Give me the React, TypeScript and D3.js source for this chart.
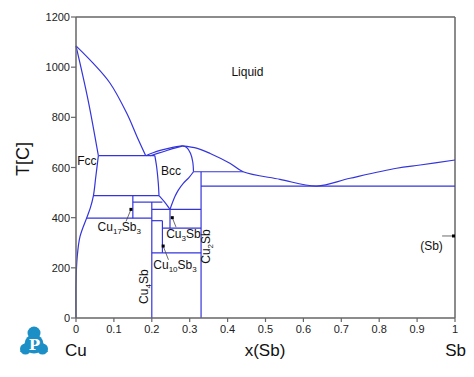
import React from "react";
import * as d3 from "d3";

// ---- data (x(Sb), T[C]) ----
const xTicks = [0, 0.1, 0.2, 0.3, 0.4, 0.5, 0.6, 0.7, 0.8, 0.9, 1];
const yTicks = [0, 200, 400, 600, 800, 1000, 1200];

const liquidusLeft: [number, number][] = [[0, 1085], [0.045, 1016], [0.09, 936], [0.134, 816], [0.161, 723], [0.184, 647]];
const fccSolidus: [number, number][] = [[0, 1085], [0.032, 868], [0.059, 647]];
const fccSolvus: [number, number][] = [[0.059, 647], [0.052, 560], [0.046, 488], [0.038, 440], [0.028, 398], [0.0105, 324], [0.003, 240], [0, 140], [0, 0]];
const bccLiquidus: [number, number][] = [[0.184, 647], [0.205, 660], [0.23, 671], [0.255, 680], [0.28, 686]];
const bccSolidus: [number, number][] = [[0.196, 647], [0.23, 663], [0.255, 675], [0.28, 685]];
const liquidusRight: [number, number][] = [[0.28, 686], [0.32, 676], [0.354, 656], [0.406, 617], [0.441, 583], [0.538, 553], [0.635, 526], [0.723, 557], [0.846, 597], [0.908, 610], [1, 630]];
const bccRight: [number, number][] = [[0.28, 686], [0.292, 680], [0.302, 657], [0.308, 623], [0.31, 583]];
const bccLowerRight: [number, number][] = [[0.31, 583], [0.298, 560], [0.283, 537], [0.27, 510], [0.261, 484], [0.248, 433]];
const bccLeft: [number, number][] = [[0.208, 647], [0.213, 600], [0.217, 540], [0.219, 488]];
const bccLowerLeft: [number, number][] = [[0.219, 488], [0.234, 462], [0.248, 433]];

// horizontal invariant lines: [x1, x2, T]
const hLines: [number, number, number][] = [
  [0.059, 0.208, 647],
  [0.31, 0.441, 583],
  [0.33, 1, 526],
  [0.046, 0.219, 488],
  [0.15, 0.228, 462],
  [0.028, 0.2, 398],
  [0.2, 0.33, 433],
  [0.2, 0.228, 388],
  [0.228, 0.33, 358],
  [0.2, 0.33, 260],
];
// vertical compound lines: [x, T1, T2]
const vLines: [number, number, number][] = [
  [0.15, 488, 398],
  [0.2, 462, 0],
  [0.228, 388, 260],
  [0.248, 433, 358],
  [0.33, 583, 0],
];

const phaseLabels: { t: string; x: number; T: number }[] = [
  { t: "Liquid", x: 0.41, T: 965 },
  { t: "Fcc", x: 0.003, T: 610 },
  { t: "Bcc", x: 0.224, T: 570 },
];
// compound labels with leader: dot (x,T), leader end (lx,lT), text anchor (tx, tT)
const leaders: { sub: [string, string, string, string]; dx: number; dT: number; lx: number; lT: number; tx: number; tT: number }[] = [
  { sub: ["Cu", "17", "Sb", "3"], dx: 0.145, dT: 433, lx: 0.132, lT: 385, tx: 0.057, tT: 345 },
  { sub: ["Cu", "3", "Sb", ""], dx: 0.254, dT: 400, lx: 0.264, lT: 362, tx: 0.238, tT: 319 },
  { sub: ["Cu", "10", "Sb", "3"], dx: 0.23, dT: 287, lx: 0.244, lT: 232, tx: 0.204, tT: 196 },
];

const W = 474, H = 377;
const x = d3.scaleLinear().domain([0, 1]).range([76, 455]);
const y = d3.scaleLinear().domain([0, 1200]).range([318, 17]);

const BLUE = "#3434dc";
const AXIS = "#666";
const FONT = "'Liberation Sans', Arial, Helvetica, sans-serif";

const lineGen = d3
  .line<[number, number]>()
  .x((d) => x(d[0]))
  .y((d) => y(d[1]))
  .curve(d3.curveCatmullRom.alpha(0.5));

const curves = [liquidusLeft, fccSolidus, fccSolvus, bccLiquidus, bccSolidus, liquidusRight, bccRight, bccLowerRight, bccLeft, bccLowerLeft];

function Logo() {
  const c = "#1b8fc6";
  return (
    <g>
      <circle cx={34} cy={333} r={6.5} fill={c} />
      <circle cx={25.5} cy={349} r={5.5} fill={c} />
      <circle cx={42.5} cy={349} r={5.5} fill={c} />
      <circle cx={34} cy={344} r={9.5} fill={c} />
      <path d="M34,327 L20,352 L48,352 Z" fill={c} />
      <text x={34.5} y={350} textAnchor="middle" fill="#fff" fontFamily="'DejaVu Serif', serif" fontWeight="bold" fontSize={15}>P</text>
    </g>
  );
}

export default function App() {
  return (
    <svg width={W} height={H} style={{ position: "absolute", left: 0, top: 0, background: "#fff" }} fontFamily={FONT}>
      {/* frame */}
      <line x1={x(0)} x2={x(1)} y1={y(1200)} y2={y(1200)} stroke={AXIS} strokeWidth={1.5} />
      <line x1={x(1)} x2={x(1)} y1={y(1200)} y2={y(0)} stroke={AXIS} strokeWidth={1.5} />

      {/* phase lines */}
      <g fill="none" stroke={BLUE} strokeWidth={1.2}>
        {curves.map((c, i) => (
          <path key={i} d={lineGen(c) || ""} />
        ))}
        {hLines.map(([a, b, t], i) => (
          <line key={"h" + i} x1={x(a)} x2={x(b)} y1={y(t)} y2={y(t)} />
        ))}
        {vLines.map(([xx, t1, t2], i) => (
          <line key={"v" + i} x1={x(xx)} x2={x(xx)} y1={y(t1)} y2={y(t2)} />
        ))}
      </g>

      {/* axes */}
      <line x1={x(0)} x2={x(0)} y1={y(1200)} y2={y(0)} stroke={AXIS} strokeWidth={1.5} />
      <line x1={x(0)} x2={x(1)} y1={y(0)} y2={y(0)} stroke={AXIS} strokeWidth={1.5} />
      {yTicks.map((t) => (
        <g key={"yt" + t}>
          <line x1={x(0) - 5} x2={x(0)} y1={y(t)} y2={y(t)} stroke={AXIS} strokeWidth={1.2} />
          <text x={x(0) - 6} y={y(t) + 4} textAnchor="end" fontSize={11} fill="#222">{t}</text>
        </g>
      ))}
      {xTicks.map((t) => (
        <g key={"xt" + t}>
          <line x1={x(t)} x2={x(t)} y1={y(0)} y2={y(0) + 4} stroke={AXIS} strokeWidth={1.2} />
          <text x={x(t)} y={y(0) + 15} textAnchor="middle" fontSize={11} fill="#222">{t}</text>
        </g>
      ))}

      {/* axis titles */}
      <text transform={`translate(29,159) rotate(-90)`} textAnchor="middle" fontSize={18} fill="#111">T[C]</text>
      <text x={265} y={356} textAnchor="middle" fontSize={17} fill="#111">x(Sb)</text>
      <text x={65} y={356} fontSize={17} fill="#111">Cu</text>
      <text x={466} y={356} textAnchor="end" fontSize={17} fill="#111">Sb</text>

      {/* phase labels */}
      {phaseLabels.map((l) => (
        <text key={l.t} x={x(l.x)} y={y(l.T)} fontSize={12} fill="#111">{l.t}</text>
      ))}

      {/* leader labels */}
      {leaders.map((l, i) => (
        <g key={"ld" + i}>
          <line x1={x(l.lx)} y1={y(l.lT)} x2={x(l.dx)} y2={y(l.dT)} stroke="#444" strokeWidth={0.8} />
          <rect x={x(l.dx) - 1.5} y={y(l.dT) - 1.5} width={3} height={3} fill="#000" />
          <text x={x(l.tx)} y={y(l.tT)} fontSize={12} fill="#111">
            {l.sub[0]}
            <tspan fontSize={8} dy={3}>{l.sub[1]}</tspan>
            <tspan dy={-3}>{l.sub[2]}</tspan>
            {l.sub[3] && <tspan fontSize={8} dy={3}>{l.sub[3]}</tspan>}
          </text>
        </g>
      ))}

      {/* rotated compound labels */}
      <text transform={`translate(${x(0.19)},${y(125)}) rotate(-90)`} textAnchor="middle" fontSize={12} fill="#111">
        Cu<tspan fontSize={8} dy={3}>4</tspan><tspan dy={-3}>Sb</tspan>
      </text>
      <text transform={`translate(${x(0.353)},${y(285)}) rotate(-90)`} textAnchor="middle" fontSize={12} fill="#111">
        Cu<tspan fontSize={8} dy={3}>2</tspan><tspan dy={-3}>Sb</tspan>
      </text>

      {/* (Sb) */}
      <line x1={x(0.966)} x2={x(1)} y1={y(327)} y2={y(327)} stroke="#444" strokeWidth={0.8} />
      <rect x={x(1) - 3} y={y(327) - 1.5} width={3} height={3} fill="#000" />
      <text x={x(0.938)} y={y(270)} textAnchor="middle" fontSize={12} fill="#111">(Sb)</text>

      <Logo />
    </svg>
  );
}
